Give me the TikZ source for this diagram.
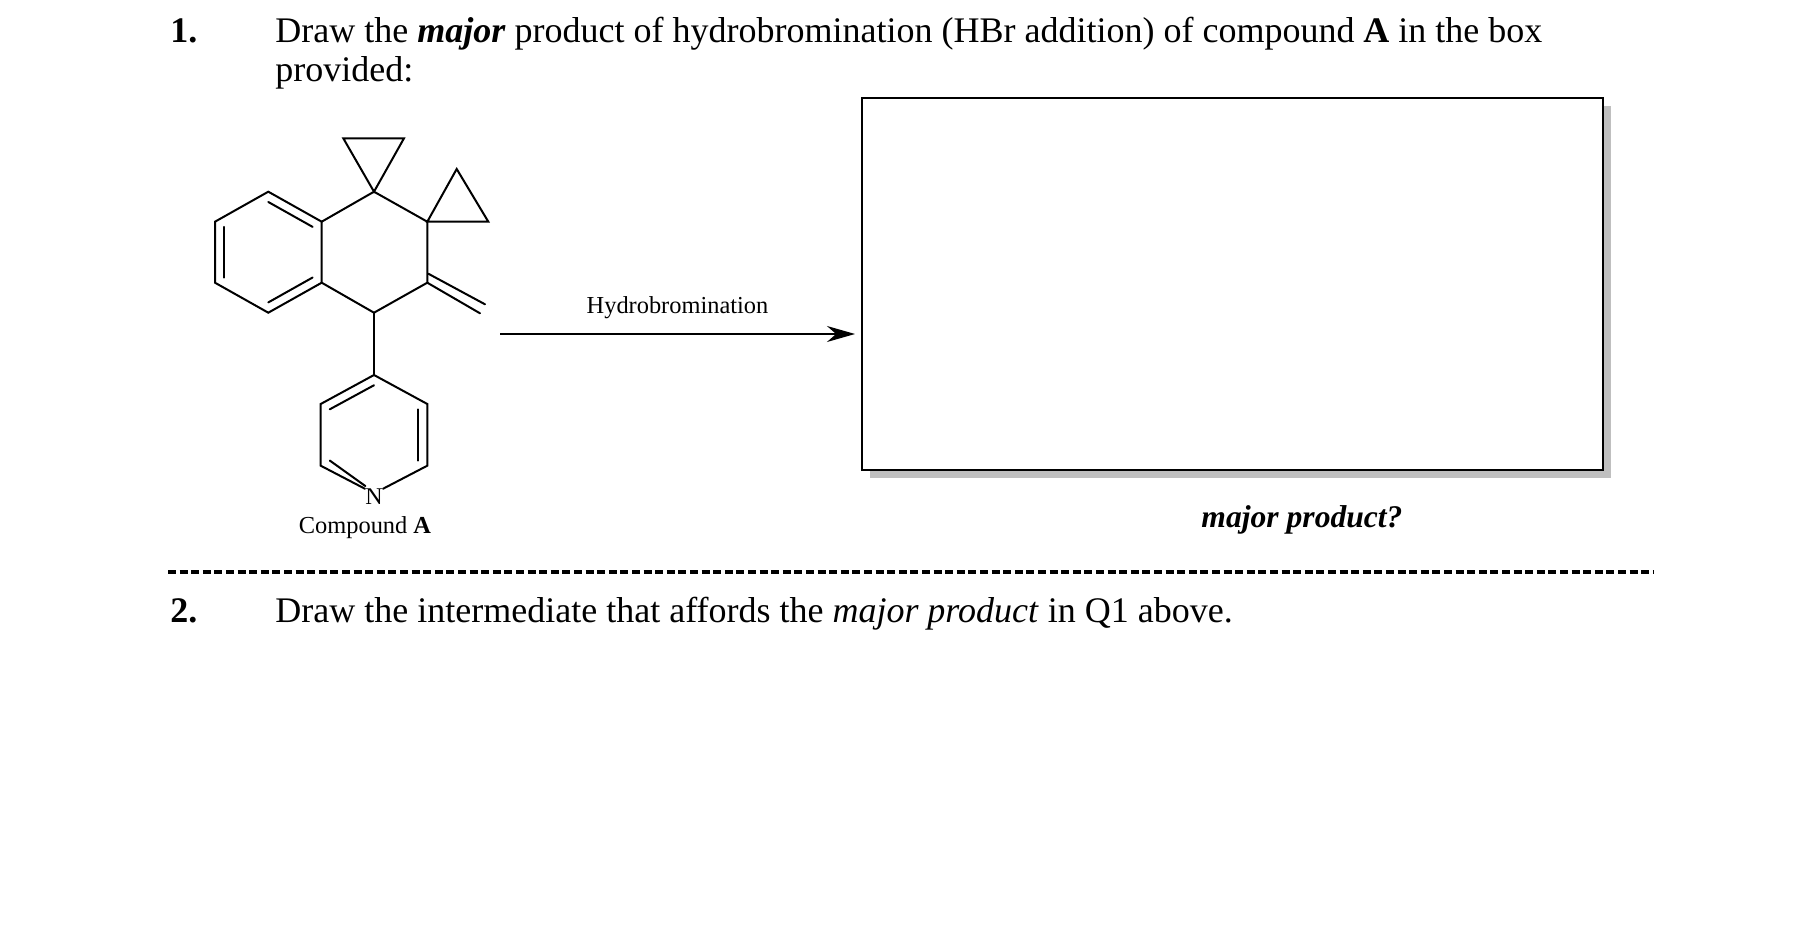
\documentclass[tikz,border=0pt]{standalone}
\usepackage{fontspec}
\setmainfont{Liberation Serif}
\usetikzlibrary{calc,arrows.meta}
\begin{document}
\begin{tikzpicture}[x=0.5pt,y=-0.5pt,
  bond/.style={line width=1pt,line cap=round},
  big/.style={font=\fontsize{18}{21}\selectfont,inner sep=0,anchor=base west},
  sm/.style={font=\fontsize{12.2}{14}\selectfont,inner sep=0}]
\useasboundingbox (0,0) rectangle (1820,925);
% text
\node[big] (n1) at (170,43) {\textbf{1.}};
\node[big] (t1) at (275,43) {Draw the \textbf{\textit{major}} product of hydrobromination (HBr addition) of compound \textbf{A} in the box};
\node[big] (t1b) at (275,82) {provided:};
\draw[line width=2.2pt,dash pattern=on 4pt off 1.8pt] (168,572) -- (1653,572);
\node[big] (n2) at (170,622) {\textbf{2.}};
\node[big] (t2) at (275,622) {Draw the intermediate that affords the \textit{major product} in Q1 above.};
% molecule
\coordinate (b1) at (268.3,191.7); \coordinate (b2) at (321.7,221.7);
\coordinate (b3) at (321.7,282.7); \coordinate (b4) at (268.3,312.7);
\coordinate (b5) at (215,282.7);   \coordinate (b6) at (215,221.7);
\coordinate (bc) at (268.3,252.2);
\coordinate (c1) at (374,191.7); \coordinate (c2) at (427.3,221.7);
\coordinate (c3) at (427.3,282.7); \coordinate (c4) at (374,312.7);
\coordinate (ch2) at (480,313.3);
\coordinate (p1a) at (343.3,138.3); \coordinate (p1b) at (404,138.3);
\coordinate (p2a) at (456.7,169); \coordinate (p2b) at (488.3,221.7);
\coordinate (y1) at (374,375); \coordinate (y2) at (320.7,404);
\coordinate (y3) at (320.7,465.7); \node[sm,font=\fontsize{12}{13}\selectfont] (N) at (374,497) {N};
\coordinate (y5) at (427.3,465.7); \coordinate (y6) at (427.3,404);
\coordinate (yc) at (374,435.3);
\draw[bond] (b1)--(b2)--(b3)--(b4)--(b5)--(b6)--cycle;
\draw[bond] ($(b1)!0.17!(bc)$)--($(b2)!0.17!(bc)$);
\draw[bond] ($(b3)!0.17!(bc)$)--($(b4)!0.17!(bc)$);
\draw[bond] ($(b5)!0.17!(bc)$)--($(b6)!0.17!(bc)$);
\draw[bond] (b2)--(c1)--(c2)--(c3)--(c4)--(b3);
\draw[bond] (c1)--(p1a)--(p1b)--cycle;
\draw[bond] (c2)--(p2a)--(p2b)--cycle;
\draw[bond] (c3)--(ch2);
\draw[bond] ($(c3)+(1,-9)$)--($(ch2)+(5,-9)$);
\draw[bond] (c4)--(y1);
\draw[bond] (y1)--(y2)--(y3)--(N.north west) (N.north east)--(y5)--(y6)--(y1);
\draw[bond] ($(y1)!0.17!(yc)$)--($(y2)!0.17!(yc)$);
\draw[bond] ($(y3)!0.17!(yc)$)--($(N.north west)!0.05!(yc)$);
\draw[bond] ($(y5)!0.17!(yc)$)--($(y6)!0.17!(yc)$);
\node[sm,anchor=base] (cA) at (365,533) {Compound \textbf{A}};
% arrow
\coordinate (as) at (500,334);
\draw[line width=1pt,-{Stealth[length=14pt,width=8pt]}] (as) -- (855,334) node[sm,midway,above=7pt] (hb) {Hydrobromination};
% box
\fill[gray!50] (870,106) rectangle (1611,478);
\draw[line width=1.3pt,fill=white] (862,98) rectangle (1603,470);
\node[font=\fontsize{15.8}{18}\selectfont\bfseries\itshape,anchor=base] (mp) at (1302,527) {major product?};
\end{tikzpicture}
\end{document}
